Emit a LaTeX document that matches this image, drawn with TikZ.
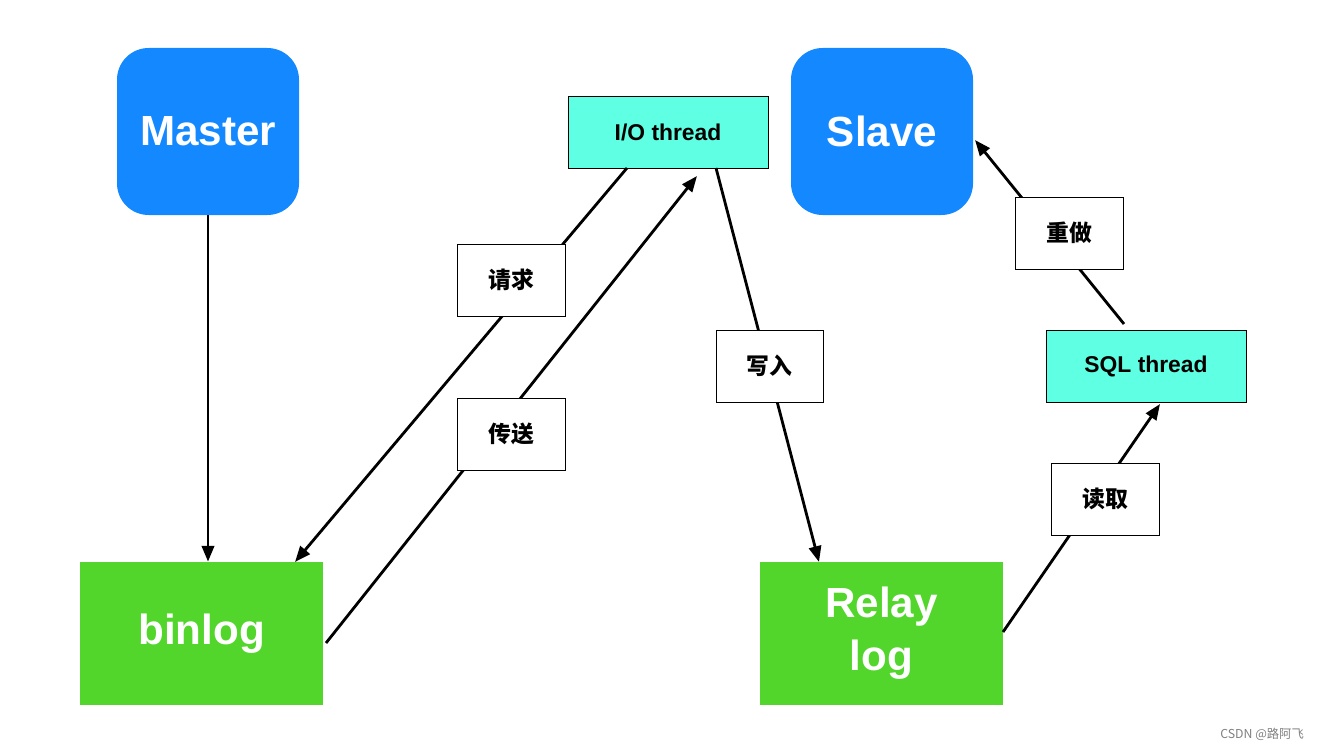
\documentclass[tikz,border=0pt]{standalone}
\usepackage{fontspec}
\setmainfont{Liberation Sans}
\newfontfamily\cjk{Noto Sans CJK SC}
\usetikzlibrary{arrows.meta}
\definecolor{boxblue}{RGB}{20,137,255}
\definecolor{boxgreen}{RGB}{82,214,43}
\definecolor{boxcyan}{RGB}{94,255,226}

\begin{document}
\begin{tikzpicture}[x=0.02cm,y=-0.02cm,>={Triangle[length=9pt,width=7pt]}]
    \tikzstyle{host}=[rounded corners=18pt,fill=boxblue,text=white,font=\fontsize{24}{26}\selectfont\bfseries]
    \tikzstyle{logfile}=[fill=boxgreen,text=white,align=center,font=\fontsize{24}{30}\selectfont\bfseries]
    \tikzstyle{thread}=[draw=black,fill=boxcyan,font=\fontsize{13}{15}\selectfont\bfseries]
    \tikzstyle{stage}=[draw=black,fill=white,font=\cjk\fontsize{13}{15}\selectfont\bfseries]
    \tikzstyle{flow}=[->,line width=1.6pt]

    \useasboundingbox (0,0) rectangle (1324,750);

    \node[host,minimum width=182*0.02cm,minimum height=167*0.02cm] (M) at (208,131.5) {Master};
    \node[host,minimum width=182*0.02cm,minimum height=167*0.02cm] (S) at (882,131.5) {Slave};
    \node[logfile,minimum width=243*0.02cm,minimum height=143*0.02cm] (B) at (201.5,633.5) {binlog};
    \node[logfile,minimum width=243*0.02cm,minimum height=143*0.02cm] (R) at (881.5,633.5) {Relay\\log};
    \node[thread,minimum width=200*0.02cm,minimum height=72*0.02cm] (IO) at (668,132) {I/O thread};
    \node[thread,minimum width=200*0.02cm,minimum height=72*0.02cm] (SQL) at (1146,366) {SQL thread};

    \coordinate (io-a) at (627,168);
    \coordinate (io-b) at (697,176);
    \coordinate (io-c) at (716,168);
    \coordinate (bl-a) at (295,562);
    \coordinate (bl-b) at (326,643);
    \coordinate (rl-a) at (819,562);
    \coordinate (rl-b) at (1003,632);
    \coordinate (sq-a) at (1160,404);
    \coordinate (sq-b) at (1124,324);
    \coordinate (sl-a) at (975,140);

    \draw[flow] (M) -- (M|-B.north);
    \draw[flow] (io-a) -- (bl-a);
    \draw[flow] (bl-b) -- (io-b);
    \draw[flow] (io-c) -- (rl-a);
    \draw[flow] (rl-b) -- (sq-a);
    \draw[flow] (sq-b) -- (sl-a);

    \node[stage,minimum width=108*0.02cm,minimum height=72*0.02cm] (ask) at (511,280) {请求};
    \node[stage,minimum width=108*0.02cm,minimum height=72*0.02cm] (send) at (511,434) {传送};
    \node[stage,minimum width=107*0.02cm,minimum height=72*0.02cm] (write) at (769.5,366) {写入};
    \node[stage,minimum width=108*0.02cm,minimum height=72*0.02cm] (redo) at (1069,233) {重做};
    \node[stage,minimum width=108*0.02cm,minimum height=72*0.02cm] (read) at (1105,499) {读取};

    \node[text=gray,font=\cjk\fontsize{7}{8}\selectfont,anchor=east] (mark) at (1310,734) {CSDN @路阿飞};
\end{tikzpicture}
\end{document}
